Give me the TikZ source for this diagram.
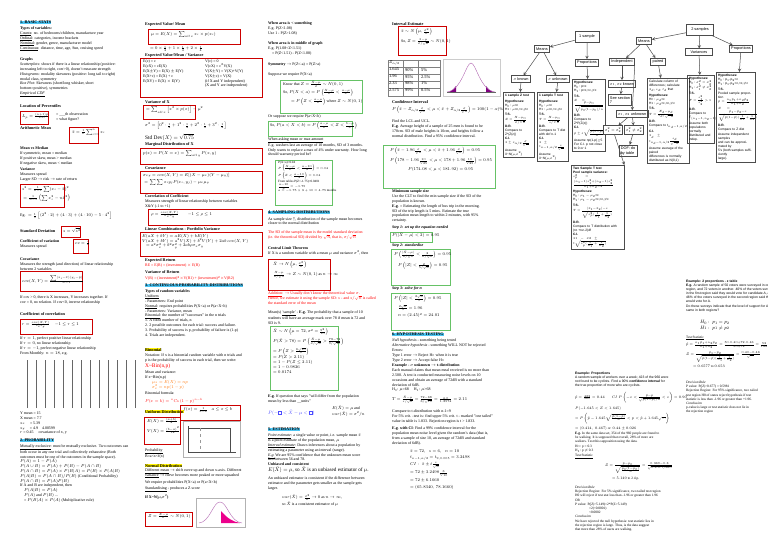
\documentclass[tikz,border=0pt]{standalone}
\usepackage{fontspec}
\setmainfont{Liberation Serif}
\newfontfamily\fcsans{Liberation Sans}
\usetikzlibrary{positioning}
\newcommand{\bx}{\mbox{\fboxsep=0.6pt\fbox{\phantom{x}}}}
\begin{document}
\begin{tikzpicture}[x=1pt,y=-1pt,every node/.append style={scale=0.6},
  t/.style={anchor=north west,inner sep=0pt,font=\fontsize{6.6}{8}\selectfont,align=left},
  hd/.style={t,font=\fontsize{7}{8.4}\selectfont\bfseries},
  cy/.style={hd,fill=cyan!70},
  ye/.style={hd,fill=yellow},
  rt/.style={t,text=red},
  rb/.style={draw=red!80!black,line width=0.7pt},
  gb/.style={draw=green!60!black!60,line width=0.7pt},
  fb/.style={draw=black!70,line width=0.9pt,fill=white,font=\fcsans\fontsize{6.4}{7.6}\selectfont,inner sep=3pt,align=center},
  big/.style={draw=black!70,line width=0.9pt,anchor=north west,font=\fcsans\fontsize{5.4}{6.6}\selectfont,inner sep=3pt,align=left,text width=#1},
  ar/.style={->,>=stealth,black!70,line width=0.5pt}]
\useasboundingbox (0,0) rectangle (768,543);
\fill[white] (0,0) rectangle (768,543);
% ===== column 1
\node[cy] (a1) at (20,21) {1. BASIC STATS};
\node[t] (a2) at (20,27) {\textbf{Types of variables:}\\ \underline{Counts}: no. of bedrooms/children, manufacture year\\ \underline{Ordinal}: categories, income brackets\\ \underline{Nominal}: gender, genre, manufacturer model\\ \underline{Continuous}: distance, time, age, Sun, cruising speed};
\node[t] (a3) at (20,58) {\textbf{Graphs}\\ \textit{Scatterplots}: shows if there is a linear relationship (positive:\\ increasing left to right, corr>0), doesn't measure strength\\ \textit{Histograms}: modality skewness (positive: long tail to right)\\ modal class, symmetry\\ \textit{Box Plot}: Skewness (short/long whisker, short\\ bottom=positive), symmetries\\ \underline{\textit{Empirical CDF}}};
\node[hd] (a4) at (20,104) {Location of Percentiles};
\draw[rb] (20,111) rectangle (48,124);
\node[t] (a5) at (22,113) {$L_p=\frac{(n+1)p}{100}$};
\node[t] (a6) at (56,113) {= \_\_\_th observation\\ = what figure?};
\node[hd] (a7) at (20,126) {Arithmetic Mean};
\draw[rb] (69,127) rectangle (98,143);
\node[t] (a8) at (72,129) {$\bar x=\frac{1}{n}\sum_{i=1}^n x_i$};
\node[t] (a9) at (20,147) {\textbf{Mean vs Median}\\ If symmetric, mean = median\\ If positive skew, mean > median\\ If negative skew, mean < median};
\node[t] (a10) at (20,168) {\textbf{Variance}\\ Measures spread\\ Larger SD $\to$ risk $\to$ rate of return};
\draw[rb] (20,184) rectangle (64,207);
\node[t] (a11) at (22,186) {$s^2=\frac{1}{n-1}\sum(x_i-\bar x)^2$\\[3pt] $\;=\frac{1}{n-1}\left(\sum x_i^2-n\bar x^2\right)$};
\node[t] (a12) at (20,212) {Eg. $\;=\frac{1}{9}\left[(2^2\cdot 2)+(4\cdot 3)+(4\cdot 10)-5\cdot 4^2\right]$};
\node[hd] (a13) at (20,229) {Standard Deviation};
\draw[rb] (61,226) rectangle (80,237);
\node[t] (a14) at (63,228) {$s=\sqrt{s^2}$};
\node[t] (a15) at (20,240) {\textbf{Coefficient of variation}\\ Measures spread};
\draw[rb] (73,239) rectangle (88,253);
\node[t] (a16) at (75,241) {$cv=\frac{s}{\bar x}$};
\node[t] (a17) at (20,258) {\textbf{Covariance}\\ Measures the strength (and direction) of linear relationship\\ between 2 variables};
\draw[rb] (20,271) rectangle (82,291);
\node[t] (a18) at (22,275) {$cov(X,Y)=\frac{\sum(x_i-\bar x)(y_i-\bar y)}{n-1}$};
\node[t] (a19) at (20,296) {If cov > 0, there is X increases, Y increases together. If\\ cov = 0, no relation. If cov<0, inverse relationship};
\node[hd] (a20) at (20,312) {Coefficient of correlation};
\draw[rb] (20,319) rectangle (92,334);
\node[t] (a21) at (22,321) {$r=\frac{cov(X,Y)}{s_x s_y}$ \quad $-1\le r\le 1$};
\node[t] (a22) at (20,337) {If $r=1$, perfect positive linear relationship\\ If $r=0$, no linear relationship\\ If $r=-1$, perfect negative linear relationship\\ From Monthly: $n=18$, e.g.};
\draw[black!60,line width=0.3pt,step=9] (20,360) grid (137,408);
\node[t] (a23) at (20,412) {Y mean = 15\\ X mean = 7.7\\ $s_x$ \quad = 5.39\\ $s_y$ \quad = 4.9\quad 4.00599\\ $r$ = 0.45 \quad covariance of x, y};
\node[cy] (a24) at (20,439) {2. PROBABILITY};
\node[t] (a25) at (20,445) {\underline{Mutually exclusive}: must be mutually exclusive. Two outcomes can\\ both occur in any one trial and collectively exhaustive (Both\\ outcomes must be one of the outcomes in the sample space).\\ $P(A)=1-P(\bar A)$\\ $P(A\cup B)=P(A)+P(B)-P(A\cap B)$\\ $P(A\cap B)=P(A)\times P(B|A)=P(B)\times P(A|B)$\\ $P(A|B)=P(A\cap B)/P(B)$ (Conditional Probability)\\ $P(A\cap B)=P(A)P(B)$\\ If A and B are independent, then\\ \quad $P(A|B)=P(A)$\\ \quad $P(A)$ and $P(B)$ ...\\ \quad = $P(B|A)\times P(A)$ (Multiplicative rule)};
% ===== column 2
\node[hd] (b1) at (145,22) {Expected Value/ Mean};
\draw[rb] (148,29) rectangle (240,44);
\node[t] (b2) at (151,31) {$\mu=E(X)=\sum_{all\,x}x_i\times p(x_i)$};
\node[t] (b3) at (150,46) {$=0\times\frac{1}{4}+1\times\frac{1}{4}+2\times\frac{1}{4}$};
\node[hd] (b4) at (145,53) {Expected Value/Mean / Variance};
\draw[rb] (140,58) rectangle (262,97);
\node[t] (b5) at (143,60) {E(c) = c\\ E(cX) = cE(X)\\ E(X$\pm$Y) = E(X) $\pm$ E(Y)\\ E(X+c) = E(X) + c\\ E(XY) = E(X) $\times$ E(Y)};
\node[t] (b6) at (205,60) {V(c) = 0\\ V(cX) = c$^2$V(X)\\ V(X$\pm$Y) = V(X)+V(Y)\\ V(X$\pm$c) = V(X)\\ (if X and Y independent)\\ (X and Y are independent)};
\node[hd] (b7) at (145,100) {Variance of X};
\draw[rb] (143,105) rectangle (195,119);
\node[t] (b8) at (146,106) {$=\sum_{all\,x}\left[x^2\times p(x)\right]-\mu^2$};
\node[t] (b9) at (145,122) {$\sigma^2=\left[0^2\cdot\frac14+1^2\cdot\frac14+2^2\cdot\frac14+3^2\cdot\frac14\right]$};
\node[t] (b10) at (145,134) {\fontsize{9}{10}\selectfont Std Dev$(X)=\sqrt{0.75}$};
\node[hd] (b11) at (145,142) {Marginal Distribution of X};
\draw[rb] (140,148) rectangle (262,164);
\node[t] (b12) at (143,150) {$p(x)=P(X=x)=\sum_{all\,y}P(x,y)$};
\node[hd] (b13) at (145,166) {Covariance};
\draw[rb] (140,171) rectangle (262,193);
\node[t] (b14) at (143,173) {$\sigma_{xy}=cov(X,Y)=E[(X-\mu_x)(Y-\mu_y)]$\\[2pt] $\;=\sum\sum x_iy_jP(x_i,y_j)-\mu_x\mu_y$};
\node[t] (b15) at (145,195) {\textbf{Correlation of Coefficient}\\ Measures strength of linear relationship between variables\\ X\&Y (-1 to +1)};
\draw[rb] (148,209) rectangle (262,225);
\node[t] (b16) at (151,211) {$\rho=\frac{cov(X,Y)}{\sigma_x\sigma_y}$ \qquad $-1\le\rho\le1$};
\node[hd] (b17) at (145,227) {Linear Combinations - Portfolio Variance};
\draw[rb] (140,232) rectangle (262,256);
\node[t] (b18) at (142,234) {$E(aX+bY)=aE(X)+bE(Y)$\\ $V(aX+bY)=a^2V(X)+b^2V(Y)+2ab\,cov(X,Y)$\\ \quad $=a^2\sigma_x^2+b^2\sigma_y^2+2ab\rho\sigma_x\sigma_y$};
\node[hd] (b19) at (145,258) {Expected Return};
\node[rt] (b20) at (145,264) {RE = E(R) = (investment) $\times$ E(R)};
\node[hd] (b21) at (145,270) {Variance of Return};
\node[rt] (b22) at (145,276) {V(R) = (investment)$^2\times$V(R1) + (investment)$^2\times$V(R2)};
\node[cy] (b23) at (145,284) {3. CONTINUOUS PROBABILITY DISTRIBUTIONS};
\node[t] (b24) at (145,290) {\textbf{Types of random variables}\\ \underline{Uniform}\\ - Parameters: End point\\ \underline{Normal}: requires probabilities P(X<a) or P(a<X<b)\\ - Parameters: Variance, mean\\ \underline{Binomial}: the number of "successes" in the n trials\\ 1. A fixed number of trials, n\\ 2. 2 possible outcomes for each trial: success and failure.\\ 3. Probability of success is p, probability of failure is (1-p)\\ 4. Trials are independent.};
\node[ye] (b25) at (145,348) {Binomial};
\node[t] (b26) at (145,354) {Notation: If x is a binomial random variable with n trials and\\ p is the probability of success in each trial, then we write:};
\node[rt] (b27) at (145,364) {\fontsize{9}{10}\selectfont X\textasciitilde Bin(n,p)};
\node[t] (b28) at (145,371) {Mean and variance:\\ If x\textasciitilde Bin(n,p)};
\node[t,text=orange!90!red] (b29) at (152,380) {$\mu_x=E(X)=np$\\ $\sigma_x^2=np(1-p)$};
\node[t] (b30) at (145,392) {Binomial formula:};
\node[rt] (b31) at (145,398) {$P(x=k)={}^nC_k(1-p)^{n-k}$};
\node[ye] (b32) at (145,410) {Uniform Distribution};
\draw[rb] (180,405) rectangle (240,420);
\node[t] (b33) at (183,407) {$f(x)=\frac{1}{b-a}$\quad $a\le x\le b$};
\draw[rb] (144,417) rectangle (180,444);
\node[t] (b34) at (147,418) {$E(X)=\frac{(a+b)}{2}$\\[4pt] $V(X)=\frac{(b-a)^2}{12}$};
\draw[black!30] (183,421) rectangle (240,457);
\draw[black!70] (188,426) -- (188,452) -- (236,452);
\draw[black!70] (188,428) -- (230,428) -- (230,452);
\draw[black!40,dashed] (200,428) -- (200,452);
\node[t] (b35) at (145,449) {\underline{Probability}\\ B=a\textless x\textless f(x)};
\node[ye] (b36) at (145,464) {Normal Distribution};
\node[t] (b37) at (145,469) {\underline{Different mean} $\to$ shift curve up and down x-axis. Different\\ \underline{variance} $\to$ curve becomes more peaked or more squashed\\[3pt] We require probabilities P(X<a) or P(a<X<b)\\[3pt] \underline{Standardising} - produces a Z score\\[3pt] \textbf{If X\textasciitilde N($\mu$,$\sigma^2$)}};
\draw[rb] (145,512) rectangle (192,526);
\node[t] (b38) at (148,513) {$Z=\frac{X-\mu}{\sigma}\sim N(0,1)$};
\draw[black!30] (196,498) rectangle (245,527);
\fill[magenta] (221,511) .. controls (227,518) and (233,522) .. (240,523) -- (221,523) -- cycle;
\draw[violet!60] (199,523) .. controls (210,522) and (213,502) .. (220,502) .. controls (227,502) and (230,522) .. (242,523);
% ===== column 3
\node[t] (c1) at (268,22) {\textbf{When area is < something}\\ E.g. P(Z<1.08)\\ Use 1 - P(Z>1.08)};
\node[t] (c2) at (268,42) {\textbf{When area is in middle of graph}\\ E.g. P(1.08<Z<1.51)\\ \quad = P(Z<1.51) - P(Z<1.08)};
\node[t] (c3) at (268,63) {\textbf{Symmetry} $\to$ P(Z<-a) = P(Z>a)};
\node[t] (c4) at (268,73) {Suppose we require P(X<a)};
\draw[gb] (280,80) rectangle (362,113);
\node[t] (c5) at (283,81) {Know that $Z=\frac{\bar X-\mu}{\sigma}\sim N(0,1)$\\[2pt] So, $P(X<a)=P\left(\frac{X-\mu}{\sigma}<\frac{a-\mu}{\sigma}\right)$\\[2pt] \qquad $=P\left(Z<\frac{a-\mu}{\sigma}\right)$ where $Z\sim N(0,1)$};
\node[t] (c6) at (268,115) {Or suppose we require P(a<X<b)};
\draw[gb] (268,121) rectangle (352,136);
\node[t] (c7) at (270,122) {So, $P(a<X<b)=P\left(\frac{a-\mu}{\sigma}<Z<\frac{b-\mu}{\sigma}\right)$};
\node[t] (c8) at (268,138) {\underline{When asking mean or max amount}\\ E.g. washers last an average of 10 months, SD of 3 months.\\ Only wants to replace a max of 4\% under warranty. How long\\ should warranty period be?};
\draw[gb] (275,160) rectangle (332,205);
\node[t,font=\fontsize{5.4}{6.8}\selectfont] (c9) at (278,161) {P(X<a)=0.04\\ $P\left(\frac{X-\mu}{\sigma}<\frac{a-10}{3}\right)=0.04$\\ $P\left(Z<\frac{a-10}{3}\right)=0.04$\\ From tables P(Z<-1.75)=0.0401\\ $\frac{a-10}{3}=-1.75$\\ $a=-1.75\times3+10=4.75$ months};
\node[cy] (c10) at (268,211) {4. SAMPLING DISTRIBUTIONS};
\node[t] (c11) at (268,217) {As sample size $\uparrow$, distribution of the sample mean becomes\\ closer to the normal distribution};
\node[rt] (c12) at (268,231) {The SD of the sample mean is the model standard deviation\\ (ie. the theoretical SD) divided by $\sqrt{n}$, that is, $\sigma/\sqrt{n}$};
\node[t] (c13) at (268,247) {\textbf{Central Limit Theorem}\\ If X is a random variable with a mean $\mu$ and variance $\sigma^2$, then};
\draw[rb] (268,259) rectangle (330,290);
\node[t] (c14) at (273,261) {$\bar X\to N\left(\mu,\frac{\sigma^2}{n}\right)$\\[4pt] $\frac{\bar X-\mu}{\sigma/\sqrt n}\to Z\sim N(0,1)$ as $n\to\infty$};
\node[rt] (c15) at (268,292) {\underline{Addition}: $\to$ Usually don't know the theoretical value $\sigma$.\\ Hence, we estimate it using the sample SD: $s$ - and $s/\sqrt n$ is called\\ the standard error of the mean};
\node[t] (c16) at (268,311) {Mean(s) \underline{'sample'} - \textbf{E.g.} The probability that a sample of 10\\ students will have an average mark over 78 if mean is 72 and\\ SD is 9.};
\draw[gb] (270,326) rectangle (338,390);
\node[t] (c17) at (273,328) {$\bar X\sim N\left(\mu=72,\sigma^2=\frac{9^2}{10}\right)$\\[3pt] $P(\bar X>78)=P\left(\frac{\bar X-\mu}{\sigma/\sqrt n}>\frac{78-72}{9/\sqrt{10}}\right)$\\[3pt] $=P\left(Z>\frac{6\sqrt{10}}{9}\right)$\\ $=P(Z>2.11)$\\ $=1-P(Z\le2.11)$\\ $=1-0.9826$\\ $=0.0174$};
\node[t] (c18) at (268,395) {\textbf{E.g.} If question that says "will differ from the population\\ mean by less than \_\_units"};
\node[t,text=blue!70,font=\fontsize{8}{9}\selectfont] (c19) at (268,410) {$P(-\bx<\bar X-\mu<\bx)$};
\node[t] (c20) at (332,406) {$E(\bar X)=\mu$ and\\[2pt] $var(\bar X)=\sigma^2/n$};
\node[cy] (c21) at (268,428) {5. ESTIMATION};
\node[t] (c22) at (268,434) {\textit{\underline{Point estimate}}: a single value or point, i.e. sample mean $\bar x$\\ is a point estimate of the population mean, $\mu$\\ \textit{\underline{Interval estimate}}: Draws inferences about a population by\\ estimating a parameter using an interval (range).\\ \textit{\underline{E.g.}} We are 95\% confidence that the unknown mean score\\ lies between 56 and 78.\\ \textbf{Unbiased and consistent}};
\node[t,font=\fontsize{8.6}{10}\selectfont] (c23) at (268,467) {$E(\bar X)=\mu$, so $\bar X$ is an unbiased estimator of $\mu$.};
\node[t] (c24) at (268,477) {An unbiased estimator is consistent if the difference between\\ estimator and the parameter gets smaller as the sample gets\\ larger.};
\node[t] (c25) at (282,494) {$var(\bar X)=\frac{\sigma^2}{n}\to0$ as $n\to\infty$,\\[2pt] so $\bar X$ is a consistent estimator of $\mu$};
% ===== column 4
\node[hd] (d1) at (392,22) {Interval Estimate};
\draw[rb] (398,26) rectangle (446,55);
\node[t] (d2) at (401,28) {$\bar x\sim N\left(\mu,\frac{\sigma^2}{n}\right)$\\[4pt] So, $Z=\frac{\bar x-\mu}{\sigma/\sqrt n}\sim N(0,1)$};
\draw[black!50,line width=0.3pt] (388,60) rectangle (440,96);
\foreach \yy in {67,74,81,88} \draw[black!50,line width=0.3pt] (388,\yy) -- (440,\yy);
\draw[black!50,line width=0.3pt] (403,60) -- (403,96) (418,60) -- (418,96);
\node[t,font=\fontsize{7.4}{11.6}\selectfont] (d3) at (389,61) {$Z_{\alpha/2}$\\ 1.645\\ 1.96\\ 2.33\\ 2.575};
\node[t,font=\fontsize{7.4}{11.6}\selectfont] (d4) at (405,68) {90\%\\ 95\%\\ 98\%\\ 99\%};
\node[t,font=\fontsize{7.4}{11.6}\selectfont] (d5) at (421,68) {5\%\\ 2.5\%\\ 1\%\\ 0.5\%};
\draw[black!20] (443,59) rectangle (500,96);
\fill[violet] (449,92) .. controls (452,91) and (454,89) .. (456,86) -- (456,92) -- cycle;
\fill[violet] (493,92) .. controls (490,91) and (488,89) .. (486,86) -- (486,92) -- cycle;
\draw[violet!60] (447,92) .. controls (462,90) and (466,63) .. (471,63) .. controls (476,63) and (480,90) .. (495,92);
\draw[black!60] (447,92) -- (496,92);
\node[hd] (d6) at (392,100) {Confidence Interval};
\node[t] (d7) at (392,106) {$P\left(\bar x-Z_{\alpha/2}\frac{\sigma}{\sqrt n}<\mu<\bar x+Z_{\alpha/2}\frac{\sigma}{\sqrt n}\right)=100(1-\alpha)\%$};
\node[t] (d8) at (392,120) {Find the LCL and UCL.\\ \textbf{E.g.} Average height of a sample of 25 men is found to be\\ 178cm. SD of male heights is 10cm, and heights follow a\\ normal distribution. Find a 95\% confidence interval.};
\draw[gb] (383,145) rectangle (495,188);
\node[t] (d9) at (390,147) {$P\left(\bar x-1.96\frac{\sigma}{\sqrt n}<\mu<\bar x+1.96\frac{\sigma}{\sqrt n}\right)=0.95$\\[4pt] $P\left(178-1.96\frac{10}{\sqrt{25}}<\mu<178+1.96\frac{10}{\sqrt{25}}\right)=0.95$\\[3pt] \hspace{30pt}$P(174.08<\mu<181.92)=0.95$};
\node[t] (d10) at (392,190) {\textbf{Minimum sample size}\\ Use the CLT to find the min sample size if the SD of the\\ population is known.\\ \textbf{E.g.} = Estimating the length of bus trip in the morning.\\ SD of the trip length is 5 mins. Estimate the true\\ population mean length to within 2 minutes, with 95\%\\ certainty.};
\node[t] (d11) at (392,226) {\textbf{\textit{Step 1: set up the equation needed}}};
\draw[gb] (390,232) rectangle (432,242);
\node[t] (d12) at (392,233) {$P(|\bar X-\mu|<2)=0.95$};
\node[t] (d13) at (392,244) {\textbf{\textit{Step 2: standardise}}};
\draw[gb] (391,249) rectangle (450,285);
\node[t] (d14) at (394,251) {$P\left(\frac{|\bar X-\mu|}{\sigma/\sqrt n}<\frac{2}{\sigma/\sqrt n}\right)=0.95$\\[5pt] \quad $P\left(|Z|<\frac{2}{5/\sqrt n}\right)=0.95$};
\node[t] (d15) at (392,287) {\textbf{\textit{Step 3: solve for n}}};
\draw[gb] (391,293) rectangle (450,330);
\node[t] (d16) at (394,295) {$P\left(|Z|<\frac{2\sqrt n}{5}\right)=0.95$\\[3pt] \quad $\frac{2\sqrt n}{5}=1.96$\\[3pt] \quad $n=(2.45)^2=24.01$};
\node[cy] (d17) at (392,333) {6. HYPOTHESIS TESTING};
\node[t] (d18) at (392,339) {\textit{Null hypothesis} - something being tested\\ \textit{Alternative hypothesis} - something WILL NOT be rejected\\ Errors:\\ Type 1 error $\to$ Reject H$_0$ when it is true\\ Type 2 error $\to$ Accept false H$_0$};
\node[t] (d19) at (392,364) {\textbf{Example - $\sigma$ unknown $\to$ t-distribution}\\ Each manual claims that mean meal received is no more than\\ 2.500. A test is conducted measuring noise levels on 10\\ occasions and obtain an average of 72dB with a standard\\ deviation of 6dB.\\ H$_0$: $\mu$=68 \quad H$_1$: $\mu$>68};
\node[t] (d20) at (392,396) {$T=\frac{\bar X-\mu}{s/\sqrt n}=\frac{72-68}{6/\sqrt{10}}=\frac{4.0}{1.8974}=2.11$};
\node[t] (d21) at (392,410) {Compare to t-distribution with n-1=9\\ For 5\% crit. -test is: find upper 5\% crit. t - marked "one tailed"\\ value in table is 1.833. Rejection region is t > 1.833.};
\node[t] (d22) at (392,427) {\textbf{E.g. with CI}: Find a 99\% confidence interval for the\\ population mean noise level given the random's data (that is,\\ from a sample of size 10, an average of 72dB and standard\\ deviation of 6dB).};
\node[t] (d23) at (410,450) {$\bar x=72$,\quad $s=6$,\quad $n=10$\\[2pt] $t_{n-1,\alpha/2}=t_{9,0.005}=3.2498$\\[3pt] $CI:\;\bar x\pm t\frac{s}{\sqrt n}$\\[3pt] $=72\pm3.2498\frac{6}{\sqrt{10}}$\\[3pt] $=72\pm6.1660$\\[3pt] $=(65.8340,\,78.1660)$};
% ===== flowchart
\node[fb,minimum width=40pt,minimum height=18pt] (s1) at (587,37) {1 sample};
\node[fb] (m1) at (542,49) {Means};
\node[fb] (p1) at (587,63) {Proportions};
\node[fb] (k1) at (521,79) {$\sigma$ known};
\node[fb] (u1) at (558,79) {$\sigma$ unknown};
\node[big=46pt] (z1) at (503,92) {\textbf{1 sample Z test}\\[3pt] \textbf{Hypotheses:}\\ H$_0$: $\mu$=c\\ H$_1$: $\mu$>c,<c,$\neq$c\\[3pt] \textbf{T.S.}\\ $Z=\frac{\bar X-\mu_0}{\sigma/\sqrt n}$\\[2pt] \textbf{D.R.}\\ Compare to Z*(Z(z))\\ \textbf{C.I.}\\ $\bar x\pm z_{\alpha/2}\frac{\sigma}{\sqrt n}$\\[3pt] Assume X\textasciitilde N($\mu$,$\sigma^2$)\\[10pt]};
\node[big=46pt] (t1) at (537,92) {\textbf{1 sample T test}\\[3pt] \textbf{Hypotheses:}\\ H$_0$: $\mu$=c\\ H$_1$: $\mu$>c,<c,$\neq$c\\[3pt] \textbf{T.S.}\\ $T=\frac{\bar X-\mu_0}{s/\sqrt n}$\\[2pt] \textbf{D.R.}\\ Compare to T dist\\ with dof n-1\\ \textbf{C.I.}\\ $\bar x\pm t_{n-1,\alpha/2}\frac{s}{\sqrt n}$\\[3pt] Assume X\textasciitilde N($\mu$,$\sigma^2$)\\[14pt]};
\node[big=50pt] (q1) at (572,79) {\textbf{Hypotheses:}\\ H$_0$: p=c\\ H$_1$: p>c,<c,$\neq$c\\[3pt] \textbf{T.S.}\\ $Z=\frac{\hat p-p_0}{\sqrt{p_0(1-p_0)/n}}$\\[2pt] \textbf{D.R.}\\ Compare to Z*P(Z(z))\\ \textbf{C.I.}\\ $\hat p\pm z\sqrt{\frac{\hat p(1-\hat p)}{n}}$\\[3pt] Assume np(1-p)$\ge$5\\ For C.I. p not close to 0 or 1};
\node[fb,minimum width=44pt,minimum height=18pt] (s2) at (700,30) {2 samples};
\node[fb] (m2) at (644,41) {Means};
\node[fb,minimum width=44pt] (v2) at (699,52) {Variances};
\node[fb,minimum width=34pt] (p2) at (741,49) {Proportions};
\node[fb] (i2) at (622,62) {Independent};
\node[fb,minimum width=22pt] (pa) at (658,62) {paired};
\node[fb] (kk) at (622,84) {$\sigma_1,\sigma_2$ known};
\node[fb,align=left] (se) at (620,100) {See section\\ 7};
\node[fb] (uu) at (632,114) {$\sigma_1,\sigma_2$ unknown};
\node[fb] (eq) at (613,130) {$\sigma_1^2=\sigma_2^2$};
\node[fb] (ne) at (634,130) {$\sigma_1^2\neq\sigma_2^2$};
\node[fb,align=left] (df) at (628,151) {DOF: do\\ by table};
\node[big=64pt] (pb) at (647,78) {Calculate column of\\ differences; calculate\\ $\bar x_d$, $s_d$, $t_d$ that\\[3pt] \textbf{Hypotheses:}\\ H$_0$: $\mu_d$=c\\ H$_1$: $\mu_d$>c,<c,$\neq$c\\[3pt] \textbf{T.S.}\\ $T=\frac{\bar X_d-\mu_d}{s_d/\sqrt{n_d}}$\\[2pt] \textbf{D.R.}\\ Compare to t$_{n_d-1,\alpha/2}$\\[3pt] \textbf{C.I.}\\ $\bar x_d\pm t_{n_d-1,\alpha/2}\frac{s_d}{\sqrt{n_d}}$\\[3pt] Assume average of the paired\\ differences is normally\\ distributed as N(0,1)\\[14pt]};
\node[big=40pt] (vb) at (687,75) {\textbf{Hypotheses:}\\ H$_0$: $\sigma_1^2=\sigma_2^2$\\ H$_1$: $\sigma_1^2\neq\sigma_2^2$\\[3pt] \textbf{T.S.}\\ $F=\frac{s_1^2}{s_2^2}>1$\\[3pt] \textbf{D.R.}\\ Compare to\\ F$_{(n_1-1,n_2-1)}$\\[3pt] Assume both\\ populations\\ normally\\ distributed and\\ indep.\\[26pt]};
\node[big=60pt] (qb) at (716,72) {\textbf{Hypotheses:}\\ H$_0$: p$_1$-p$_2$=c\\ H$_1$: p$_1$-p$_2$>c,<c,$\neq$c\\[3pt] \textbf{T.S.}\\ Pooled sample proportion\\ $\hat p=\frac{n_1\hat p_1+n_2\hat p_2}{n_1+n_2}$\\[3pt] $Z=\frac{\hat p_1-\hat p_2-c}{\sqrt{\hat p(1-\hat p)(\frac1{n_1}+\frac1{n_2})}}$\\[3pt] \textbf{D.R.}\\ Compare to Z dist\\[3pt] Assume independent samples\\ and can be approximated by\\ 5's (both samples sufficiently\\ large).\\[18pt]};
\node[big=82pt] (tt) at (571,165) {\textbf{Two Sample T test}\\ \textbf{Pool sample variance:}\\ $s_p^2=\frac{(n_1-1)s_1^2+(n_2-1)s_2^2}{n_1+n_2-2}$\\[3pt] \textbf{Hypotheses:}\\ H$_0$: $\mu_1-\mu_2$=c\\ H$_1$: $\mu_1-\mu_2$>c,<c,$\neq$c\\[3pt] \textbf{T.S.}\\ $T=\frac{(\bar x_1-\bar x_2)-c}{\sqrt{s_p^2(\frac1{n_1}+\frac1{n_2})}}$\\[3pt] \textbf{D.R.}\\ Compare to T distribution with\\ (n$_1$+n$_2$-2)df\\ \textbf{C.I.}\\ $\bar x_1-\bar x_2\pm t\sqrt{s_p^2(\frac1{n_1}+\frac1{n_2})}$};
\draw[ar] (s1) -- (m1); \draw[ar] (s1) -- (p1);
\draw[ar] (m1) -- (k1); \draw[ar] (m1) -- (u1);
\draw[ar] (k1) -- (z1); \draw[ar] (u1) -- (t1); \draw[ar] (p1) -- (q1);
\draw[ar] (s2) -- (m2); \draw[ar] (s2) -- (v2); \draw[ar] (s2) -- (p2);
\draw[ar] (m2) -- (i2); \draw[ar] (m2) -- (pa);
\draw[ar] (i2) -- (kk); \draw[ar] (kk) -- (se); \draw[ar] (i2.south east) -- (uu);
\draw[ar] (uu) -- (eq); \draw[ar] (uu) -- (ne); \draw[ar] (ne) -- (df);
\draw[ar] (eq) -- (tt.north east);
\draw[ar] (pa) -- (pb); \draw[ar] (v2) -- (vb); \draw[ar] (p2) -- (qb);
% ===== examples bottom right
\node[t,font=\fcsans\fontsize{5.6}{6.8}\selectfont] (e1) at (686,280) {\textbf{Example: 2 proportions - z table}\\ \textbf{E.g.} A random sample of 50 voters were surveyed in one\\ region, and 72 voters in another. 40\% of the voters surveyed\\ in the first region said they would vote for candidate A, and\\ 46\% of the voters surveyed in the second region said they\\ would vote for A.\\ Do these surveys indicate that the level of support for A in the\\ same in both regions?};
\node[t,font=\fontsize{8}{9.6}\selectfont] (e2) at (700,320) {$H_0:\;p_1=p_2$\\ $H_1:\;p_1\neq p_2$};
\node[t,font=\fontsize{5.8}{7}\selectfont] (e3) at (686,336) {\underline{Test Statistic}\\[2pt] $\hat p=\frac{n_1\hat p_1+n_2\hat p_2}{n_1+n_2}=\frac{50\cdot0.40+72\cdot0.46}{50+72}=\frac{53}{122}$\\[4pt] $Z=\frac{\hat p_1-\hat p_2}{\sqrt{\hat p(1-\hat p)(\frac1{n_1}+\frac1{n_2})}}=\frac{0.40-0.46}{\sqrt{...}}$\\[4pt] \qquad $=0.6577$ to $0.653$};
\node[t,font=\fontsize{5.8}{7}\selectfont] (e4) at (686,381) {\textit{Decision Rule}\\ P value: P(|Z|>0.677) = 0.5981\\ Rejection Region: For 95\% significance, two tailed\\ test region H0 of states reject hypothesis if test\\ statistic is less than -1.96 or greater than +1.96.\\ \textit{Conclusion}\\ p-value is large or test statistic does not lie in\\ the rejection region};
\node[t,font=\fcsans\fontsize{5.6}{6.8}\selectfont] (e5) at (575,372) {\textbf{Example: Proportions}\\ A random sample of workers over a week; 423 of the 960 were\\ not found to be cyclists. Find a 90\% \textbf{confidence interval} for\\ the true proportion of more who are cyclists.};
\node[t,font=\fontsize{5.8}{7}\selectfont] (e6) at (575,392) {$\hat p=\frac{423}{960}=0.44$\qquad $CI\;P\left(-z<\frac{\hat p-p}{\sqrt{\hat p(1-\hat p)/n}}<z\right)=0.90$\\[5pt] $P(-1.645<Z<1.645)$\\[4pt] $=P\left(\hat p-1.645\sqrt{\frac{\hat p(1-\hat p)}{n}}<p<\hat p+1.645\sqrt{...}\right)$\\[4pt] $=(0.414,\;0.467)$ or \;$0.44\pm0.026$};
\node[t,font=\fontsize{5.8}{7}\selectfont] (e7) at (575,432) {\textbf{E.g.} In the same data set, 354 of the 960 people are found to\\ be walking. It is supposed that overall, 28\% of more are\\ walkers. Test this supposition using the data.\\ H$_0$: p = 0.3\\ H$_1$: p $\neq$ 0.3\\[2pt] \underline{Test Statistic}};
\node[t,font=\fontsize{5.8}{7}\selectfont] (e8) at (605,462) {$Z=\frac{\hat p-p_0}{\sqrt{\frac{p_0(1-p_0)}{n}}}=\frac{0.369-0.3}{\sqrt{0.3\cdot0.7/960}}$\\[6pt] \qquad $=5.149$ to 2 d.p.};
\node[t,font=\fontsize{5.8}{7}\selectfont] (e9) at (575,486) {\textit{Decision Rule}\\ Rejection Region: For 5\% significance, two tailed test region\\ H0 will reject if test stat less than -1.96 or greater than 1.96\\ OR\\ P value: P(|Z|>5.149)=2*P(Z>5.149)\\ \qquad\qquad =2(\textless0.0001)\\ \qquad\qquad \textless0.0002\\ \textit{Conclusion}\\ We have rejected the null hypothesis: test statistic lies in\\ the rejection region is large. Thus, is the data suggest\\ that more than 28\% of users are walking.};
\end{tikzpicture}
\end{document}
